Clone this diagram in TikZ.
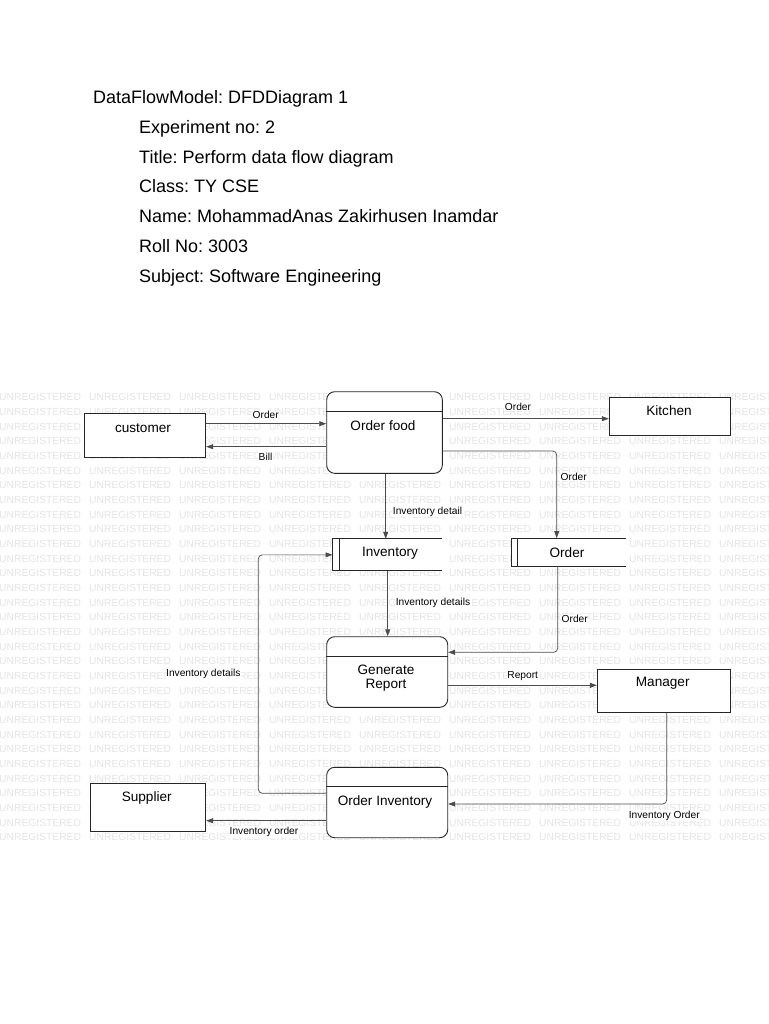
\documentclass[tikz,border=0pt]{standalone}
\usepackage{fontspec}
\setmainfont{Liberation Sans}
\usetikzlibrary{arrows.meta,calc}
\frenchspacing

\begin{document}
\begin{tikzpicture}[x=1pt,y=1pt,yscale=-1,xscale=1,
  entity/.style={draw=black!85,fill=white,line width=0.9pt,inner sep=0pt},
  proc/.style={entity,rounded corners=8pt},
  store/.style={fill=white,inner sep=0pt},
  storeline/.style={draw=black!85,line width=0.9pt},
  divider/.style={draw=black!85,line width=0.8pt},
  boxtext/.style={inner sep=0pt,align=center,font=\fontsize{13.6}{14}\selectfont},
  headtext/.style={anchor=base west,inner sep=0pt,font=\fontsize{18}{22}\selectfont},
  lbl/.style={fill=white,inner sep=0.6pt,font=\fontsize{10.2}{12}\selectfont},
  flow/.style={draw=black!70,line width=0.7pt,rounded corners=4pt,-{Triangle[length=7pt,width=5pt]}},
  wmark/.style={anchor=west,inner sep=0pt,text=black!11,font=\fontsize{10.3}{12}\selectfont}]
\useasboundingbox (0,0) rectangle (768,1024);

% Header
\node[headtext] (model) at (93,103.5) {DataFlowModel: DFDDiagram 1};
\node[headtext] (expno) at (139,133.3) {Experiment no: 2};
\node[headtext] (title) at (139,163.1) {Title: Perform data flow diagram};
\node[headtext] (class) at (139,192.9) {Class: TY CSE};
\node[headtext] (name) at (139,222.7) {Name: MohammadAnas Zakirhusen Inamdar};
\node[headtext] (roll) at (139,252.5) {Roll No: 3003};
\node[headtext] (subject) at (139,282.3) {Subject: Software Engineering};

% Watermark
\foreach \r in {0,...,30}
  \foreach \c in {0,...,8}
    \node[wmark] at (-1+90*\c,397.3+14.667*\r) {UNREGISTERED};

%Shape: Rectangle
\node[entity,minimum width=121.7pt,minimum height=44pt] (customer) at (144.85,435.3) {};
\node[entity,minimum width=121.4pt,minimum height=37.7pt] (kitchen) at (670,416.2) {};
\node[entity,minimum width=133.4pt,minimum height=43.4pt] (manager) at (664,691) {};
\node[entity,minimum width=115.7pt,minimum height=48.4pt] (supplier) at (147.85,807.5) {};

%Shape: Rounded Rectangle
\node[proc,minimum width=115.6pt,minimum height=81.6pt] (orderfood) at (384.5,432.5) {};
\draw[divider] ($(orderfood.north west)+(0,20.6)$) -- ($(orderfood.north east)+(0,20.6)$);
\node[proc,minimum width=121pt,minimum height=70.6pt] (genreport) at (387.2,672) {};
\draw[divider] ($(genreport.north west)+(0,20)$) -- ($(genreport.north east)+(0,20)$);
\node[proc,minimum width=121pt,minimum height=70.4pt] (orderinv) at (387.2,802.5) {};
\draw[divider] ($(orderinv.north west)+(0,20)$) -- ($(orderinv.north east)+(0,20)$);

%Shape: Data Store
\node[store,minimum width=109.3pt,minimum height=31.7pt] (inventory) at (387.35,554.85) {};
\draw[storeline] (inventory.north east) -- (inventory.north west) -- (inventory.south west) -- (inventory.south east);
\draw[storeline] ($(inventory.north west)+(6.6,0)$) -- ($(inventory.south west)+(6.6,0)$);
\node[store,minimum width=114.3pt,minimum height=27.7pt] (orderstore) at (568.85,552.15) {};
\draw[storeline] (orderstore.north east) -- (orderstore.north west) -- (orderstore.south west) -- (orderstore.south east);
\draw[storeline] ($(orderstore.north west)+(6,0)$) -- ($(orderstore.south west)+(6,0)$);

% Text Node
\node[boxtext] (customertxt) at (143,428) {customer};
\node[boxtext] (orderfoodtxt) at (383,426) {Order food};
\node[boxtext] (kitchentxt) at (669,411) {Kitchen};
\node[boxtext] (inventorytxt) at (390,553) {Inventory};
\node[boxtext] (orderstoretxt) at (567,552.7) {Order};
\node[boxtext] (genreporttxt) at (386,678) {Generate\\Report};
\node[boxtext] (managertxt) at (662.7,683.3) {Manager};
\node[boxtext] (orderinvtxt) at (385,801.7) {Order Inventory};
\node[boxtext] (suppliertxt) at (146.7,797.7) {Supplier};

%Flows
\draw[flow] (customer.east |- 0,423.7) -- (orderfood.west |- 0,423.7);
\draw[flow] (orderfood.west |- 0,446.7) -- (customer.east |- 0,446.7);
\draw[flow] (orderfood.east |- 0,418.7) -- (kitchen.west |- 0,418.7);
\draw[flow] (orderfood.east |- 0,451) -| (556.7,0 |- orderstore.north);
\draw[flow] (orderfood.south -| 385.7,0) -- (inventory.north -| 385.7,0);
\draw[flow] (inventory.south -| 387.7,0) -- (genreport.north -| 387.7,0);
\draw[flow] (557.7,0 |- orderstore.south) |- (genreport.east |- 0,652.3);
\draw[flow] (genreport.east |- 0,685.3) -- (manager.west |- 0,685.3);
\draw[flow] (666.7,0 |- manager.south) |- (orderinv.east |- 0,804);
\draw[flow] (orderinv.west |- 0,793.3) -| (258.3,0 |- inventory.west) -- (inventory.west);
\draw[flow] (orderinv.west |- 0,820.7) -- (supplier.east |- 0,820.7);

% Flow labels
\node[lbl] (orderlbl) at (265.7,415) {Order};
\node[lbl] (billlbl) at (265.5,456.7) {Bill};
\node[lbl] (kitchenlbl) at (518,406.7) {Order};
\node[lbl] (storelbl) at (573.7,477) {Order};
\node[lbl] (invdetlbl) at (427.5,511.7) {Inventory detail};
\node[lbl] (invdetslbl) at (433,602.7) {Inventory details};
\node[lbl] (reportorderlbl) at (574.7,619.3) {Order};
\node[lbl] (reportlbl) at (522.7,676.3) {Report};
\node[lbl] (looplbl) at (203.3,674.3) {Inventory details};
\node[lbl] (mgrlbl) at (664.3,815.7) {Inventory Order};
\node[lbl] (supplbl) at (264,832.3) {Inventory order};

\end{tikzpicture}
\end{document}
